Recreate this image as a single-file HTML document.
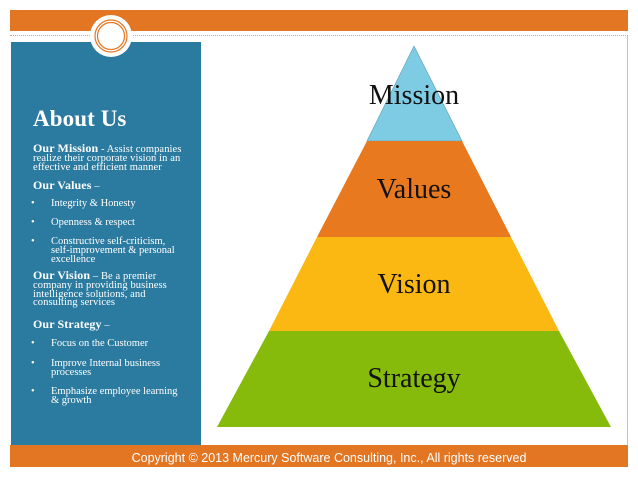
<!DOCTYPE html>
<html><head><meta charset="utf-8"><style>
body{margin:0;width:638px;height:478px;background:#fff;position:relative;overflow:hidden;font-family:"Liberation Serif",serif}
.a{position:absolute}
#panel{left:11px;top:42px;width:190px;height:403px;background:#2b7ba0;color:#fff}
.t{position:absolute;left:22px;font-size:10.5px;line-height:8.8px;width:150px;letter-spacing:0.1px}
.b{font-weight:bold;font-size:12px}
.li{position:absolute;left:20px;font-size:10.5px;line-height:8.8px}
.li span{position:absolute;left:20px;width:135px}
</style></head><body>
<div class="a" style="left:10px;top:10px;width:618px;height:21px;background:#e27622"></div>
<div class="a" style="left:10px;top:35px;width:618px;border-top:1px dotted #e8a070"></div>
<div class="a" style="left:627px;top:36px;width:1px;height:409px;background:#e6b89a"></div>
<div id="panel" class="a">
<div class="t" style="top:65px;font-size:23px;line-height:23px;font-weight:bold">About Us</div>
<div class="t" style="top:102px"><span class="b">Our Mission</span> - Assist companies realize their corporate vision in an effective and efficient manner</div>
<div class="t" style="top:139px"><span class="b">Our Values</span> –</div>
<div class="li" style="top:158px">•<span>Integrity &amp; Honesty</span></div>
<div class="li" style="top:177px">•<span>Openness &amp; respect</span></div>
<div class="li" style="top:196px">•<span>Constructive self-criticism, self-improvement &amp; personal excellence</span></div>
<div class="t" style="top:229px"><span class="b">Our Vision</span> – Be a premier company in providing business intelligence solutions, and consulting services</div>
<div class="t" style="top:278px"><span class="b">Our Strategy</span> –</div>
<div class="li" style="top:298px">•<span>Focus on the Customer</span></div>
<div class="li" style="top:318px">•<span>Improve Internal business processes</span></div>
<div class="li" style="top:346px">•<span>Emphasize employee learning &amp; growth</span></div>
</div>
<svg class="a" style="left:0;top:0" width="638" height="478">
<circle cx="111" cy="36" r="21" fill="#fff"/>
<circle cx="111" cy="36" r="16" fill="none" stroke="#e27622" stroke-width="1.2"/>
<circle cx="111" cy="36" r="13.5" fill="none" stroke="#e27622" stroke-width="1.2"/>
<polygon points="414,46 462,141 367,141" fill="#7ecbe4" stroke="#5a9bb5" stroke-width="0.6"/>
<polygon points="367,141 462,141 511,237 317,237" fill="#e8791f"/>
<polygon points="317,237 511,237 559,331 269,331" fill="#fbb812"/>
<polygon points="269,331 559,331 611,427 217,427" fill="#86bb0b"/>
<g font-family="Liberation Serif,serif" font-size="28" text-anchor="middle" fill="#111">
<text x="414" y="104">Mission</text>
<text x="414" y="198">Values</text>
<text x="414" y="293">Vision</text>
<text x="414" y="387">Strategy</text>
</g>
</svg>
<div class="a" style="left:10px;top:445px;width:618px;height:22px;background:#e27622;color:#fff;font-family:'Liberation Sans',sans-serif;font-size:12.5px;line-height:27px;text-align:center;padding-left:20px;box-sizing:border-box">Copyright © 2013 Mercury Software Consulting, Inc., All rights reserved</div>
</body></html>
